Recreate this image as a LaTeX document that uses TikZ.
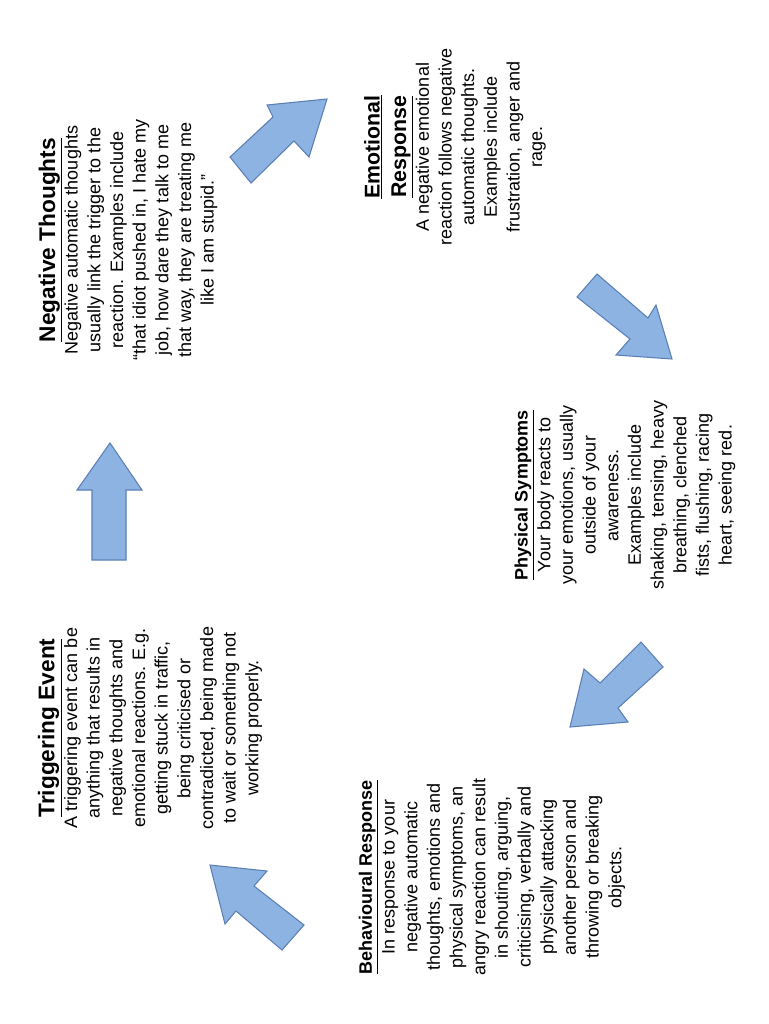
\documentclass[tikz,border=0pt]{standalone}
\usepackage{fontspec}
\setmainfont{Liberation Sans}
\newcommand{\bigtitle}[2]{{\fontsize{#1}{#1}\selectfont\underline{\textbf{#2}}}}
\begin{document}
\begin{tikzpicture}[x=0.75pt,y=-0.75pt,
  txt/.style={rotate=90,align=center,inner sep=0pt,font=\fontsize{13.5}{17}\selectfont},
  arr/.style={fill=arrfill,draw=arrline,line width=0.8pt,line join=miter}]
\definecolor{arrfill}{HTML}{8DB3E2}
\definecolor{arrline}{HTML}{5B7FB5}
\useasboundingbox (0,0) rectangle (768,1024);
\node[txt] (neg) at (128,240) {\bigtitle{17}{Negative Thoughts}\\
Negative automatic thoughts\\ usually link the trigger to the\\ reaction. Examples include\\
``that idiot pushed in, I hate my\\ job, how dare they talk to me\\ that way, they are treating me\\ like I am stupid.''};
\node[txt] (emo) at (455,147) {\bigtitle{16}{Emotional}\\[3pt] \bigtitle{16}{Response}\\
A negative emotional\\ reaction follows negative\\ automatic thoughts.\\ Examples include\\ frustration, anger and\\ rage.};
\node[txt] (phy) at (625,495) {\underline{\textbf{Physical Symptoms}}\\ Your body reacts to\\ your emotions, usually\\ outside of your\\ awareness.\\ Examples include\\ shaking, tensing, heavy\\ breathing, clenched\\ fists, flushing, racing\\ heart, seeing red.};
\node[txt] (beh) at (492,877) {\underline{\textbf{Behavioural Response}}\\ In response to your\\ negative automatic\\ thoughts, emotions and\\ physical symptoms, an\\ angry reaction can result\\ in shouting, arguing,\\ criticising, verbally and\\ physically attacking\\ another person and\\ throwing or breaking\\ objects.};
\node[txt] (trig) at (150,728) {\bigtitle{17}{Triggering Event}\\
A triggering event can be\\ anything that results in\\ negative thoughts and\\ emotional reactions. E.g.\\ getting stuck in traffic,\\ being criticised or\\ contradicted, being made\\ to wait or something not\\ working properly.};
% arrows
\draw[arr] (110,443) -- (142,490) -- (126,490) -- (126,560) -- (92,560) -- (92,490) -- (77,490) -- cycle;
\draw[arr] (327,99) -- (309,157) -- (294,141) -- (251,183) -- (230,157) -- (273,117) -- (267,105) -- cycle;
\draw[arr] (672,359) -- (616,355) -- (630,339) -- (577,297) -- (597,274) -- (648,318) -- (656,305) -- cycle;
\draw[arr] (570,727) -- (584,669) -- (600,683) -- (641,642) -- (663,667) -- (618,708) -- (628,722) -- cycle;
\draw[arr] (210,865) -- (267,871) -- (254,886) -- (304,925) -- (282,950) -- (236,911) -- (225,924) -- cycle;
\end{tikzpicture}
\end{document}
